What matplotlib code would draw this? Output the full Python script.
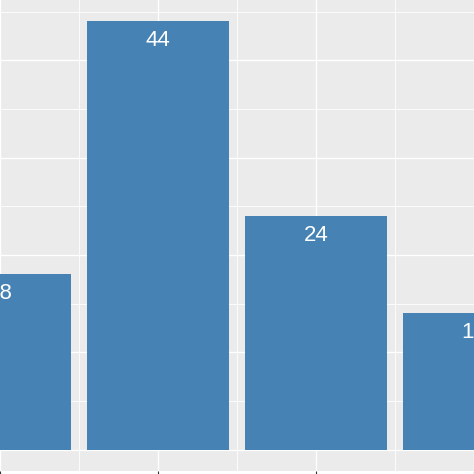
import matplotlib
matplotlib.use("Agg")
import matplotlib.pyplot as plt
from matplotlib.ticker import MultipleLocator

# data
positions = [1, 2, 3, 4]
values = [18, 44, 24, 14]
tick_labels = ["", "", "", ""]

plt.rcParams['font.family'] = ['Liberation Sans', 'DejaVu Sans']

fig = plt.figure(figsize=(4.74, 4.74), dpi=100)
ax = fig.add_axes([0, 3 / 474, 1, 471 / 474])

ax.set_facecolor('#EBEBEB')
ax.bar(positions, values, width=0.9, color='#4682B4', zorder=3)

for x, v in zip(positions, values):
    ax.annotate(str(v), (x, v), xytext=(0, -14), textcoords='offset points',
                ha='center', va='center', color='white', fontsize=16, zorder=4,
                annotation_clip=False)

ax.set_xlim(2 - 157.5 / 162, 2 + (474 - 157.5) / 162)
ax.set_ylim(-2.2, 46.2)

ax.set_xticks(positions)
ax.set_xticklabels(tick_labels)
ax.xaxis.set_minor_locator(MultipleLocator(1))
ax.set_xticks([1.5, 2.5, 3.5], minor=True)
ax.yaxis.set_major_locator(MultipleLocator(10))
ax.yaxis.set_minor_locator(MultipleLocator(5))

ax.grid(which='major', color='white', linewidth=1.0, zorder=0)
ax.grid(which='minor', color='white', linewidth=0.6, zorder=0)
ax.set_axisbelow(True)

ax.tick_params(axis='x', which='major', length=3, width=0.8, color='#333333', direction='out')
ax.tick_params(axis='x', which='minor', length=0)
ax.tick_params(axis='y', which='both', length=0, labelleft=False)

for s in ax.spines.values():
    s.set_visible(False)

fig.savefig('out.png', dpi=100)
